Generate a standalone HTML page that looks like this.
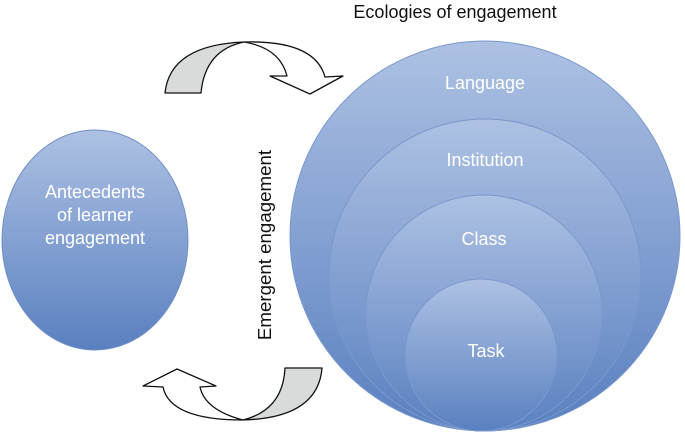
<html><body style="margin:0;background:#fff">
<svg width="685" height="435" viewBox="0 0 685 435" xmlns="http://www.w3.org/2000/svg" font-family="Liberation Sans, sans-serif">
<defs>
<linearGradient id="g" x1="0" y1="0" x2="0" y2="1">
<stop offset="0" stop-color="#adc1e3"/><stop offset="1" stop-color="#5a80c0"/></linearGradient>
</defs>
<ellipse cx="95" cy="240" rx="93" ry="110" fill="url(#g)" stroke="#6f8fc6" stroke-width="1"/>
<text fill="#fff" font-size="18" text-anchor="middle"><tspan x="95" y="198">Antecedents</tspan><tspan x="95" y="221">of learner</tspan><tspan x="95" y="244">engagement</tspan></text>
<circle cx="485" cy="236" r="195" fill="url(#g)" stroke="#7a98cc"/>
<circle cx="485" cy="275" r="156" fill="url(#g)" stroke="#7a98cc"/>
<circle cx="484" cy="313" r="118" fill="url(#g)" stroke="#7a98cc"/>
<circle cx="481" cy="355" r="76" fill="url(#g)" stroke="#7a98cc"/>
<g fill="#fff" font-size="18" text-anchor="middle">
<text x="485" y="89">Language</text>
<text x="485" y="166">Institution</text>
<text x="484" y="245">Class</text>
<text x="486" y="357">Task</text>
</g>
<text x="455" y="18" font-size="18" text-anchor="middle" fill="#111">Ecologies of engagement</text>
<text transform="translate(271,245) rotate(-90)" font-size="18.7" text-anchor="middle" fill="#111">Emergent engagement</text>
<g stroke="#111" stroke-width="1.3" stroke-linejoin="round">
<path d="M165,93 Q170,45 244,42 Q205,50 201,93 Z" fill="#d9dbda"/>
<path d="M244,42 Q315,40 325,77 L343,76 L310,94 L270,76 L287,76 Q280,48 244,42 Z" fill="#fff"/>
<path d="M285,368 L322,368 Q318,418 243,420 Q283,410 285,368 Z" fill="#d9dbda"/>
<path d="M243,420 Q170,420 163,387 L143,386 L177,369 L216,386 L200,387 Q205,410 243,420 Z" fill="#fff"/>
</g>
</svg>
</body></html>
